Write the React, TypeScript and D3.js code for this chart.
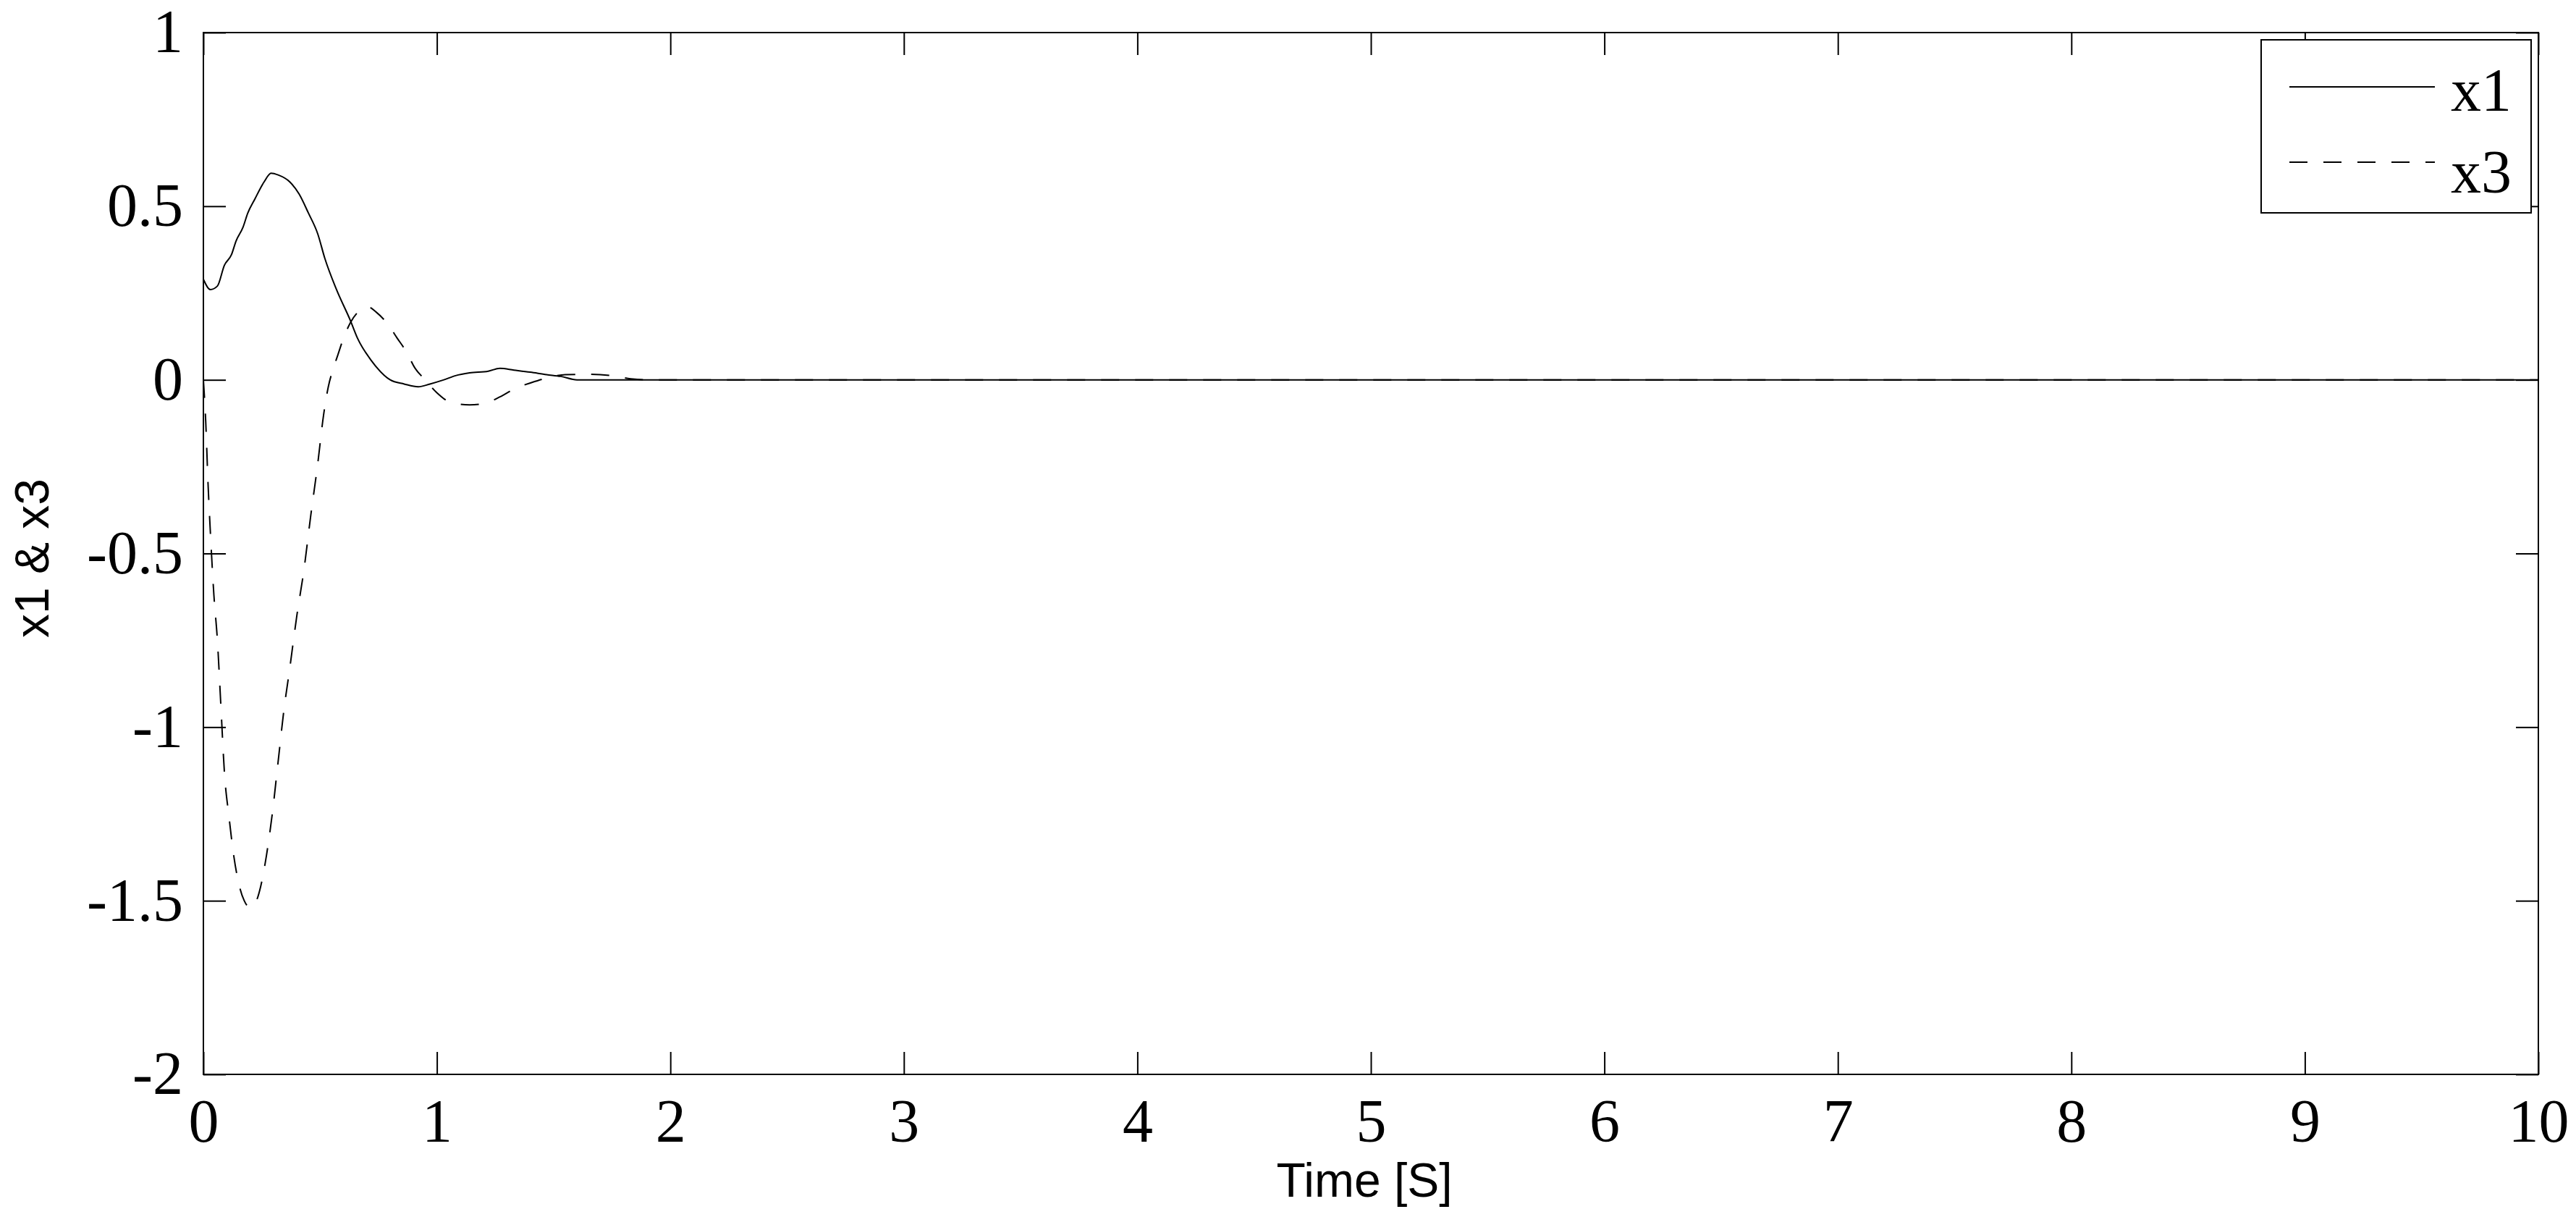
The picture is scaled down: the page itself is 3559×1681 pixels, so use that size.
import { useEffect, useRef } from 'react';
import * as d3 from 'd3';

// x1 response (solid)
const x1Time = [0, 0.03, 0.06, 0.09, 0.12, 0.14, 0.17, 0.19, 0.22, 0.26, 0.29, 0.32, 0.37, 0.41, 0.45, 0.49, 0.52, 0.57, 0.63, 0.66, 0.72, 0.8, 0.86, 0.92, 0.97, 1.03, 1.08, 1.14, 1.22, 1.27, 1.33, 1.4, 1.47, 1.53, 1.6, 10];
const x1Values = [0.29, 0.26, 0.27, 0.33, 0.36, 0.4, 0.44, 0.48, 0.52, 0.57, 0.595, 0.59, 0.57, 0.535, 0.48, 0.42, 0.35, 0.26, 0.17, 0.12, 0.055, 0.0, -0.012, -0.02, -0.012, 0.0, 0.012, 0.02, 0.025, 0.033, 0.028, 0.022, 0.015, 0.01, 0.0, 0];

// x3 response (dashed)
const x3Time = [0, 0.01, 0.02, 0.03, 0.045, 0.06, 0.075, 0.09, 0.11, 0.13, 0.155, 0.175, 0.2, 0.22, 0.245, 0.27, 0.295, 0.32, 0.345, 0.37, 0.4, 0.43, 0.46, 0.49, 0.515, 0.535, 0.555, 0.575, 0.6, 0.63, 0.67, 0.705, 0.74, 0.79, 0.83, 0.87, 0.905, 0.95, 1.0, 1.06, 1.14, 1.21, 1.27, 1.335, 1.405, 1.475, 1.55, 1.65, 1.75, 1.83, 1.9, 10];
const x3Values = [0, -0.12, -0.3, -0.44, -0.62, -0.75, -0.94, -1.13, -1.26, -1.37, -1.46, -1.5, -1.52, -1.51, -1.46, -1.37, -1.25, -1.1, -0.95, -0.83, -0.68, -0.55, -0.39, -0.24, -0.1, -0.02, 0.03, 0.07, 0.12, 0.165, 0.2, 0.21, 0.195, 0.16, 0.12, 0.08, 0.035, 0.0, -0.037, -0.065, -0.072, -0.067, -0.049, -0.025, -0.008, 0.006, 0.015, 0.016, 0.012, 0.003, 0, 0];

const xTicks = [0, 1, 2, 3, 4, 5, 6, 7, 8, 9, 10];
const yTicks = [1, 0.5, 0, -0.5, -1, -1.5, -2];
const seriesNames = ['x1', 'x3'];

const W = 3559;
const H = 1681;

const App = () => {
  const svgRef = useRef<SVGSVGElement>(null);

  useEffect(() => {
    if (!svgRef.current) return;
    const root = d3.select(svgRef.current);
    root.selectAll('*').remove();

    const left = 281, right = 3507, top = 45, bottom = 1484;
    const x = d3.scaleLinear().domain([0, 10]).range([left, right]);
    const y = d3.scaleLinear().domain([-2, 1]).range([bottom, top]);

    const serif = 'Liberation Serif, Times New Roman, serif';
    const sans = 'Liberation Sans, Arial, sans-serif';
    const dash = '25,22';

    // Curves
    const line = d3
      .line<[number, number]>()
      .x(d => x(d[0]))
      .y(d => y(d[1]))
      .curve(d3.curveMonotoneX);

    const x1Data = x1Time.map((t, i) => [t, x1Values[i]] as [number, number]);
    const x3Data = x3Time.map((t, i) => [t, x3Values[i]] as [number, number]);

    root.append('path')
      .datum(x3Data)
      .attr('fill', 'none')
      .attr('stroke', '#000')
      .attr('stroke-width', 2)
      .attr('stroke-dasharray', dash)
      .attr('d', line);

    root.append('path')
      .datum(x1Data)
      .attr('fill', 'none')
      .attr('stroke', '#000')
      .attr('stroke-width', 2)
      .attr('d', line);

    // Axes, ticks pointing inward on all four sides
    const fmt = (d: d3.NumberValue) => String(+d);

    const gLeft = root.append('g')
      .attr('transform', `translate(${left},0)`)
      .call(d3.axisLeft(y).tickValues(yTicks).tickSize(-31).tickSizeOuter(0).tickPadding(28).tickFormat(fmt));
    const gBottom = root.append('g')
      .attr('transform', `translate(0,${bottom})`)
      .call(d3.axisBottom(x).tickValues(xTicks).tickSize(-31).tickSizeOuter(0).tickPadding(33).tickFormat(fmt));
    const gRight = root.append('g')
      .attr('transform', `translate(${right},0)`)
      .call(d3.axisRight(y).tickValues(yTicks).tickSize(-31).tickSizeOuter(0).tickFormat(() => ''));
    const gTop = root.append('g')
      .attr('transform', `translate(0,${top})`)
      .call(d3.axisTop(x).tickValues(xTicks).tickSize(-31).tickSizeOuter(0).tickFormat(() => ''));

    [gLeft, gBottom, gRight, gTop].forEach(g => {
      g.select('.domain').remove();
      g.selectAll('line').attr('stroke', '#000').attr('stroke-width', 2);
      g.selectAll('text')
        .attr('fill', '#000')
        .style('font-family', serif)
        .style('font-size', '84px');
    });

    // Frame
    root.append('rect')
      .attr('x', left)
      .attr('y', top)
      .attr('width', right - left)
      .attr('height', bottom - top)
      .attr('fill', 'none')
      .attr('stroke', '#000')
      .attr('stroke-width', 2);

    // Axis titles
    root.append('text')
      .attr('transform', `translate(67,771) rotate(-90)`)
      .attr('text-anchor', 'middle')
      .style('font-family', sans)
      .style('font-size', '66px')
      .text('x1 & x3');

    root.append('text')
      .attr('x', 1885)
      .attr('y', 1653)
      .attr('text-anchor', 'middle')
      .style('font-family', sans)
      .style('font-size', '66px')
      .text('Time [S]');

    // Legend
    const legend = root.append('g');
    legend.append('rect')
      .attr('x', 3124)
      .attr('y', 55)
      .attr('width', 373)
      .attr('height', 239)
      .attr('fill', '#fff')
      .attr('stroke', '#000')
      .attr('stroke-width', 2);

    seriesNames.forEach((name, i) => {
      const ly = 120 + i * 104;
      legend.append('line')
        .attr('x1', 3163)
        .attr('x2', 3364)
        .attr('y1', ly)
        .attr('y2', ly)
        .attr('stroke', '#000')
        .attr('stroke-width', 2)
        .attr('stroke-dasharray', i === 1 ? dash : null);
      legend.append('text')
        .attr('x', 3386)
        .attr('y', ly + 33 + i * 9)
        .style('font-family', serif)
        .style('font-size', '84px')
        .text(name);
    });
  }, []);

  return (
    <svg
      ref={svgRef}
      width={W}
      height={H}
      style={{ position: 'absolute', left: 0, top: 0, background: '#fff' }}
    />
  );
};

export default App;
